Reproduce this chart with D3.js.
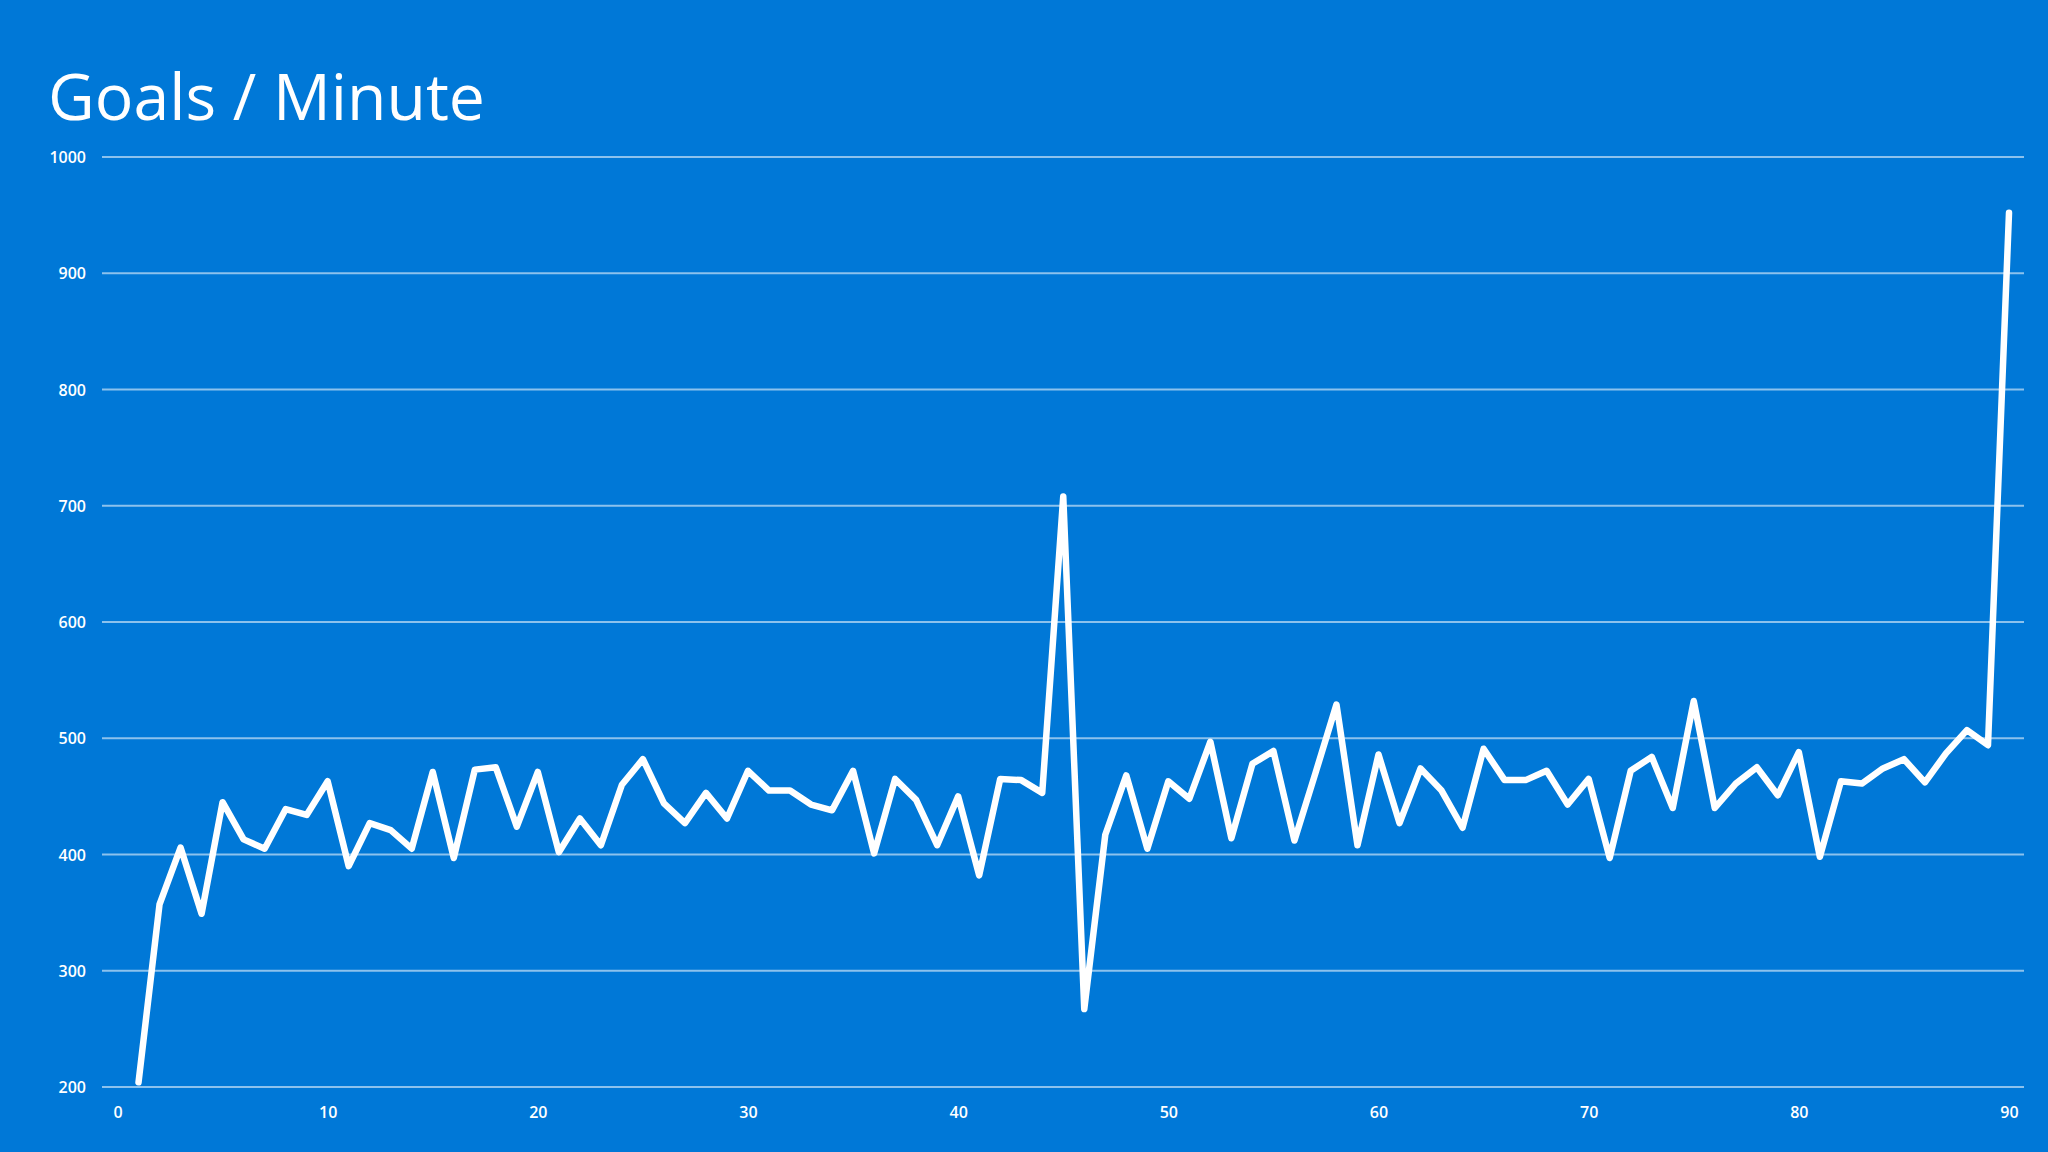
<!DOCTYPE html>
<html>
<head>
<meta charset="utf-8">
<script src="https://cdn.jsdelivr.net/npm/d3@7"></script>
<style>
  html, body { margin: 0; padding: 0; background: #0078d7; }
  svg { display: block; }
</style>
</head>
<body>
<svg id="chart" width="2048" height="1152"></svg>
<script>
const title = "Goals / Minute";
const minutes = d3.range(1, 91);
const goals = [
  204, 357, 406, 349, 445, 413, 405, 439, 434, 463,
  390, 427, 421, 405, 471, 397, 473, 475, 424, 471,
  402, 431, 408, 460, 482, 444, 427, 453, 431, 472,
  455, 455, 443, 438, 472, 401, 465, 447, 408, 450,
  382, 465, 464, 453, 708, 267, 417, 468, 405, 463,
  448, 497, 414, 478, 489, 412, 470, 529, 408, 486,
  427, 474, 455, 423, 491, 464, 464, 472, 443, 465,
  397, 472, 484, 440, 532, 440, 461, 475, 451, 488,
  398, 463, 461, 474, 482, 462, 487, 507, 494, 952
];
const yTicks = [200, 300, 400, 500, 600, 700, 800, 900, 1000];
const xTicks = [0, 10, 20, 30, 40, 50, 60, 70, 80, 90];

const svg = d3.select("#chart");
const W = 2048, H = 1152;
svg.append("rect").attr("width", W).attr("height", H).attr("fill", "#0078d7");

const x = d3.scaleLinear().domain([0, 90]).range([117.5, 2009]);
const y = d3.scaleLinear().domain([200, 1000]).range([1087, 157]);
const gridLeft = 102, gridRight = 2024;

// gridlines
svg.append("g").selectAll("line").data(yTicks).join("line")
  .attr("x1", gridLeft).attr("x2", gridRight)
  .attr("y1", d => y(d)).attr("y2", d => y(d))
  .attr("stroke", "rgba(255,255,255,0.55)")
  .attr("stroke-width", 2);

const labelFont = "'Open Sans', 'Noto Sans', sans-serif";

// y axis labels
const yAxis = d3.axisLeft(y).tickValues(yTicks).tickFormat(d3.format("d")).tickSize(0).tickPadding(0);
const gy = svg.append("g").attr("transform", "translate(86,0)").call(yAxis);
gy.select(".domain").remove();
gy.selectAll("text")
  .attr("fill", "#fff")
  .style("font-family", labelFont)
  .style("font-size", "16px")
  .style("font-weight", "600")
  .attr("dy", "0.35em");

// x axis labels
const xAxis = d3.axisBottom(x).tickValues(xTicks).tickFormat(d3.format("d")).tickSize(0).tickPadding(0);
const gx = svg.append("g").attr("transform", "translate(0,1107)").call(xAxis);
gx.select(".domain").remove();
gx.selectAll("text")
  .attr("fill", "#fff")
  .style("font-family", labelFont)
  .style("font-size", "16px")
  .style("font-weight", "600")
  .attr("dy", "0.71em");

// line
const line = d3.line().x((d, i) => x(minutes[i])).y(d => y(d));
svg.append("path")
  .datum(goals)
  .attr("d", line)
  .attr("fill", "none")
  .attr("stroke", "#fff")
  .attr("stroke-width", 6.5)
  .attr("stroke-linejoin", "round")
  .attr("stroke-linecap", "round");

// title
const t = svg.append("text")
  .attr("x", 48).attr("y", 120)
  .attr("fill", "#fff")
  .style("font-family", labelFont)
  .style("font-size", "70px")
  .text(title);
const w = t.node().getComputedTextLength();
t.style("font-size", (70 * 437 / w) + "px");
</script>
</body>
</html>
